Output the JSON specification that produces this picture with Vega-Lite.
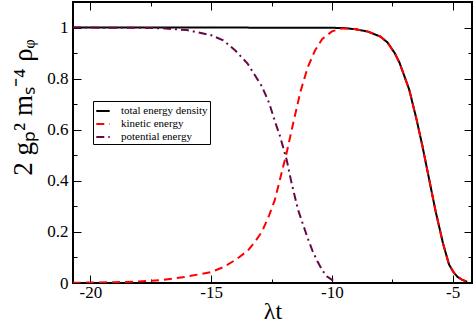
{
  "$schema": "https://vega.github.io/schema/vega-lite/v6.json",
  "width": 399,
  "height": 281,
  "autosize": "none",
  "padding": {"left": 73, "top": 2, "right": 2, "bottom": 39},
  "background": "white",
  "config": {"view": {"stroke": "black", "strokeWidth": 2}, "font": "Liberation Serif"},
  "datasets": {
    "curves": [
      {"series": "total energy density", "t": -20.72, "rho": 1.0},
      {"series": "total energy density", "t": -15, "rho": 1.0},
      {"series": "total energy density", "t": -10, "rho": 0.999},
      {"series": "total energy density", "t": -9.5, "rho": 0.998},
      {"series": "total energy density", "t": -9.0, "rho": 0.993},
      {"series": "total energy density", "t": -8.5, "rho": 0.984},
      {"series": "total energy density", "t": -8.0, "rho": 0.965},
      {"series": "total energy density", "t": -7.7, "rho": 0.942},
      {"series": "total energy density", "t": -7.4, "rho": 0.9},
      {"series": "total energy density", "t": -7.2, "rho": 0.862},
      {"series": "total energy density", "t": -7.0, "rho": 0.81},
      {"series": "total energy density", "t": -6.8, "rho": 0.757},
      {"series": "total energy density", "t": -6.5, "rho": 0.642},
      {"series": "total energy density", "t": -6.25, "rho": 0.535},
      {"series": "total energy density", "t": -6.0, "rho": 0.418},
      {"series": "total energy density", "t": -5.7, "rho": 0.278},
      {"series": "total energy density", "t": -5.4, "rho": 0.155},
      {"series": "total energy density", "t": -5.15, "rho": 0.072},
      {"series": "total energy density", "t": -4.95, "rho": 0.04},
      {"series": "total energy density", "t": -4.8, "rho": 0.024},
      {"series": "total energy density", "t": -4.6, "rho": 0.012},
      {"series": "total energy density", "t": -4.4, "rho": 0.005},
      {"series": "kinetic energy", "t": -20.72, "rho": 0.001},
      {"series": "kinetic energy", "t": -19, "rho": 0.003},
      {"series": "kinetic energy", "t": -18, "rho": 0.006},
      {"series": "kinetic energy", "t": -17, "rho": 0.012},
      {"series": "kinetic energy", "t": -16, "rho": 0.025},
      {"series": "kinetic energy", "t": -15, "rho": 0.043},
      {"series": "kinetic energy", "t": -14.5, "rho": 0.062},
      {"series": "kinetic energy", "t": -14, "rho": 0.09},
      {"series": "kinetic energy", "t": -13.5, "rho": 0.125},
      {"series": "kinetic energy", "t": -13.2, "rho": 0.16},
      {"series": "kinetic energy", "t": -12.9, "rho": 0.2},
      {"series": "kinetic energy", "t": -12.6, "rho": 0.265},
      {"series": "kinetic energy", "t": -12.36, "rho": 0.326},
      {"series": "kinetic energy", "t": -12.1, "rho": 0.425},
      {"series": "kinetic energy", "t": -11.875, "rho": 0.509},
      {"series": "kinetic energy", "t": -11.6, "rho": 0.627},
      {"series": "kinetic energy", "t": -11.3, "rho": 0.75},
      {"series": "kinetic energy", "t": -11.0, "rho": 0.845},
      {"series": "kinetic energy", "t": -10.7, "rho": 0.91},
      {"series": "kinetic energy", "t": -10.4, "rho": 0.955},
      {"series": "kinetic energy", "t": -10.0, "rho": 0.985},
      {"series": "kinetic energy", "t": -9.6, "rho": 0.996},
      {"series": "kinetic energy", "t": -9.2, "rho": 0.997},
      {"series": "kinetic energy", "t": -9.0, "rho": 0.993},
      {"series": "kinetic energy", "t": -8.5, "rho": 0.984},
      {"series": "kinetic energy", "t": -8.0, "rho": 0.965},
      {"series": "kinetic energy", "t": -7.7, "rho": 0.942},
      {"series": "kinetic energy", "t": -7.4, "rho": 0.9},
      {"series": "kinetic energy", "t": -7.2, "rho": 0.862},
      {"series": "kinetic energy", "t": -7.0, "rho": 0.81},
      {"series": "kinetic energy", "t": -6.8, "rho": 0.757},
      {"series": "kinetic energy", "t": -6.5, "rho": 0.642},
      {"series": "kinetic energy", "t": -6.25, "rho": 0.535},
      {"series": "kinetic energy", "t": -6.0, "rho": 0.418},
      {"series": "kinetic energy", "t": -5.7, "rho": 0.278},
      {"series": "kinetic energy", "t": -5.4, "rho": 0.155},
      {"series": "kinetic energy", "t": -5.15, "rho": 0.072},
      {"series": "kinetic energy", "t": -4.95, "rho": 0.04},
      {"series": "kinetic energy", "t": -4.8, "rho": 0.024},
      {"series": "kinetic energy", "t": -4.6, "rho": 0.012},
      {"series": "kinetic energy", "t": -4.4, "rho": 0.005},
      {"series": "potential energy", "t": -20.72, "rho": 1.0},
      {"series": "potential energy", "t": -18, "rho": 0.999},
      {"series": "potential energy", "t": -17, "rho": 0.997},
      {"series": "potential energy", "t": -16, "rho": 0.99},
      {"series": "potential energy", "t": -15, "rho": 0.97},
      {"series": "potential energy", "t": -14.5, "rho": 0.95},
      {"series": "potential energy", "t": -14, "rho": 0.91},
      {"series": "potential energy", "t": -13.5, "rho": 0.86},
      {"series": "potential energy", "t": -13.2, "rho": 0.815},
      {"series": "potential energy", "t": -12.9, "rho": 0.77},
      {"series": "potential energy", "t": -12.6, "rho": 0.705},
      {"series": "potential energy", "t": -12.35, "rho": 0.63},
      {"series": "potential energy", "t": -12.15, "rho": 0.575},
      {"series": "potential energy", "t": -11.875, "rho": 0.483},
      {"series": "potential energy", "t": -11.67, "rho": 0.391},
      {"series": "potential energy", "t": -11.4, "rho": 0.286},
      {"series": "potential energy", "t": -11.2, "rho": 0.23},
      {"series": "potential energy", "t": -11.0, "rho": 0.175},
      {"series": "potential energy", "t": -10.8, "rho": 0.125},
      {"series": "potential energy", "t": -10.6, "rho": 0.085},
      {"series": "potential energy", "t": -10.4, "rho": 0.05},
      {"series": "potential energy", "t": -10.2, "rho": 0.025},
      {"series": "potential energy", "t": -10.0, "rho": 0.012},
      {"series": "potential energy", "t": -9.85, "rho": 0.004}
    ]
  },
  "data": {"name": "curves"},
  "layer": [
    {
      "transform": [{"filter": "datum.series === 'total energy density'"}],
      "mark": {"type": "line", "strokeWidth": 2, "clip": true},
      "encoding": {
        "x": {"field": "t", "type": "quantitative", "scale": {"domain": [-20.72, -4.2], "nice": false, "zero": false},
          "axis": {"orient": "bottom", "values": [-20, -17.5, -15, -12.5, -10, -7.5, -5],
            "labelExpr": "datum.value % 5 === 0 ? '' + datum.value : ''",
            "tickSize": {"condition": {"test": "datum.value % 5 === 0", "value": -8}, "value": -4},
            "tickColor": "black", "tickWidth": 1, "domain": false, "grid": false,
            "labelFont": "Liberation Serif", "labelFontSize": 17, "labelColor": "black", "labelPadding": 9,
            "title": "λt", "titleFont": "Liberation Serif", "titleFontSize": 24, "titleFontWeight": "normal", "titleColor": "black", "titlePadding": -1}},
        "y": {"field": "rho", "type": "quantitative", "scale": {"domain": [0, 1.1], "nice": false},
          "axis": {"orient": "left", "values": [0, 0.1, 0.2, 0.3, 0.4, 0.5, 0.6, 0.7, 0.8, 0.9, 1.0],
            "labelExpr": "round(datum.value * 10) % 2 === 0 ? '' + datum.value : ''",
            "tickSize": {"condition": {"test": "round(datum.value * 10) % 2 === 0", "value": -8}, "value": -4},
            "tickColor": "black", "tickWidth": 1, "domain": false, "grid": false,
            "labelFont": "Liberation Serif", "labelFontSize": 17, "labelColor": "black", "labelPadding": 13,
            "title": "2 gₚ² mₛ⁻⁴ ρᵩ", "titleFont": "Liberation Serif", "titleFontSize": 27, "titleFontWeight": "normal", "titleColor": "black", "titlePadding": 9, "titleY": 105, "titleAlign": "center"}},
        "color": {"field": "series", "type": "nominal",
          "scale": {"domain": ["total energy density", "kinetic energy", "potential energy"], "range": ["black", "#ff0000", "#670748"]},
          "legend": {"orient": "none", "legendX": 20, "legendY": 99, "title": null, "strokeColor": "black", "fillColor": "white", "padding": 2,
            "symbolType": "stroke", "symbolSize": 180, "symbolStrokeWidth": 2, "labelFont": "Liberation Serif", "labelFontSize": 11, "labelColor": "black", "rowPadding": 0, "labelOffset": 10}},
        "strokeDash": {"field": "series", "type": "nominal",
          "scale": {"domain": ["total energy density", "kinetic energy", "potential energy"], "range": [[1, 0], [8, 5], [8, 4, 2, 4]]},
          "legend": {"orient": "none", "legendX": 20, "legendY": 99, "title": null, "strokeColor": "black", "fillColor": "white", "padding": 2,
            "symbolType": "stroke", "symbolSize": 180, "symbolStrokeWidth": 2, "labelFont": "Liberation Serif", "labelFontSize": 11, "labelColor": "black", "rowPadding": 0, "labelOffset": 10}}
      }
    },
    {
      "transform": [{"filter": "datum.series === 'kinetic energy'"}],
      "mark": {"type": "line", "strokeWidth": 2, "clip": true},
      "encoding": {
        "x": {"field": "t", "type": "quantitative", "axis": null},
        "y": {"field": "rho", "type": "quantitative", "axis": null},
        "color": {"field": "series", "type": "nominal"},
        "strokeDash": {"field": "series", "type": "nominal"}
      }
    },
    {
      "transform": [{"filter": "datum.series === 'potential energy'"}],
      "mark": {"type": "line", "strokeWidth": 2, "clip": true},
      "encoding": {
        "x": {"field": "t", "type": "quantitative", "axis": null},
        "y": {"field": "rho", "type": "quantitative", "axis": null},
        "color": {"field": "series", "type": "nominal"},
        "strokeDash": {"field": "series", "type": "nominal"}
      }
    },
    {
      "mark": {"type": "line", "opacity": 0},
      "encoding": {
        "x": {"field": "t", "type": "quantitative",
          "axis": {"orient": "top", "values": [-20, -17.5, -15, -12.5, -10, -7.5, -5], "labels": false, "title": null, "domain": false, "grid": false,
            "tickSize": {"condition": {"test": "datum.value % 5 === 0", "value": -8}, "value": -4}, "tickColor": "black", "tickWidth": 1}},
        "y": {"field": "rho", "type": "quantitative",
          "axis": {"orient": "right", "values": [0, 0.1, 0.2, 0.3, 0.4, 0.5, 0.6, 0.7, 0.8, 0.9, 1.0], "labels": false, "title": null, "domain": false, "grid": false,
            "tickSize": {"condition": {"test": "round(datum.value * 10) % 2 === 0", "value": -8}, "value": -4}, "tickColor": "black", "tickWidth": 1}},
        "detail": {"field": "series", "type": "nominal"}
      }
    }
  ],
  "resolve": {"axis": {"x": "independent", "y": "independent"}}
}
